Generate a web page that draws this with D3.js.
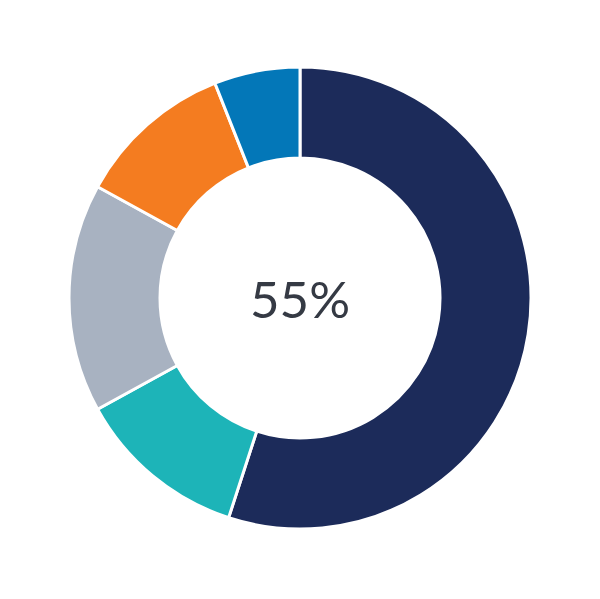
<!DOCTYPE html>
<html><head><meta charset="utf-8">
<script src="https://cdn.jsdelivr.net/npm/d3@7"></script>
<style>html,body{margin:0;padding:0;background:#fff;}</style>
</head><body>
<svg id="chart" width="600" height="599"></svg>
<script>
const categories = ["A", "B", "C", "D", "E"];
const values = [55, 12, 16, 11, 6];
const colors = ["#1c2b5a", "#1db4b8", "#a8b2c1", "#f47c20", "#0377b8"];
const centerLabel = "55%";

const svg = d3.select("#chart");
const cx = 300, cy = 298, outerR = 231, innerR = 140;
const g = svg.append("g").attr("transform", `translate(${cx},${cy})`);
const pie = d3.pie().sort(null).value(d => d.v);
const arc = d3.arc().innerRadius(innerR).outerRadius(outerR);
const color = d3.scaleOrdinal().domain(categories).range(colors);
const data = categories.map((c, i) => ({c, v: values[i]}));
g.selectAll("path").data(pie(data)).join("path")
  .attr("d", arc)
  .attr("fill", d => color(d.data.c))
  .attr("stroke", "#fff")
  .attr("stroke-width", 3);
g.append("text").text(centerLabel)
  .attr("text-anchor", "middle")
  .attr("dominant-baseline", "central")
  .attr("y", 0)
  .attr("font-family", "Lato, sans-serif")
  .attr("font-size", 51)
  .attr("fill", "#353a44");
</script>
</body></html>
